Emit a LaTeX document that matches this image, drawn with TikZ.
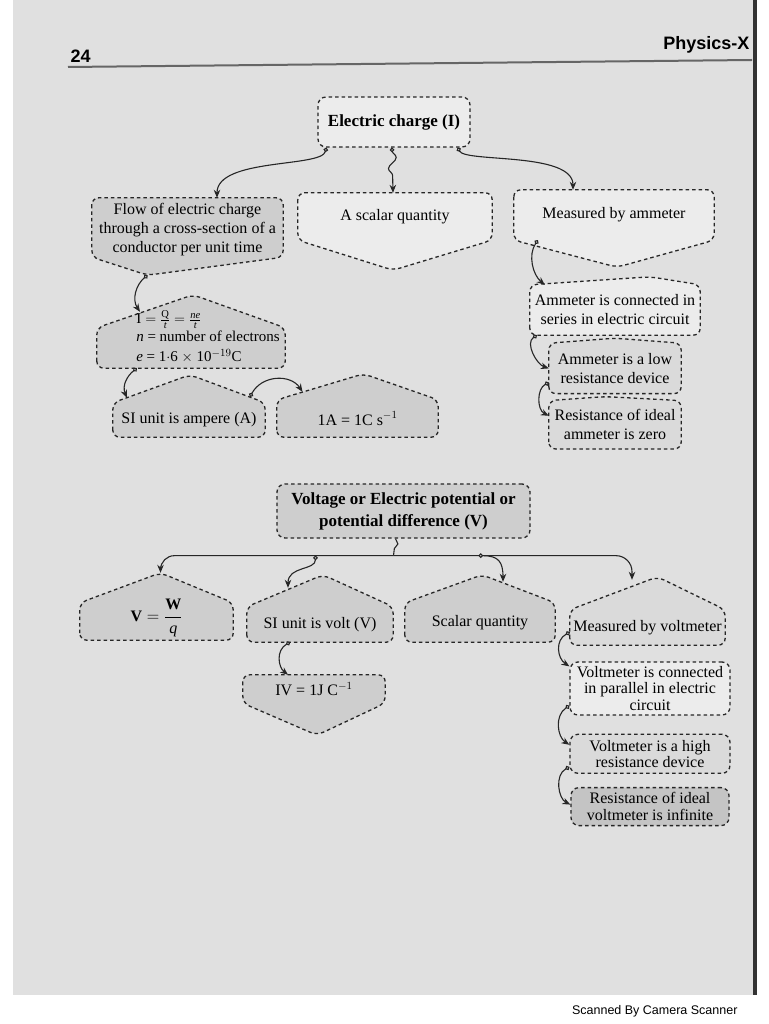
\documentclass[tikz,border=0pt]{standalone}
\usepackage{amsmath}
\usepackage{fontspec}
\setmainfont{Liberation Serif}
\newfontfamily\headfont{Liberation Sans}
\usetikzlibrary{positioning,arrows.meta,decorations.pathmorphing}

\definecolor{pagegray}{RGB}{224,224,224}
\definecolor{boxlight}{RGB}{236,236,236}
\definecolor{boxmid}{RGB}{218,218,218}
\definecolor{boxgray}{RGB}{206,206,206}
\definecolor{boxdark}{RGB}{196,196,196}

\pgfdeclarelayer{paper}
\pgfdeclarelayer{background}
\pgfsetlayers{paper,background,main}

\newcommand{\txt}{\fontsize{16}{19}\selectfont}
\newcommand{\tighttxt}{\fontsize{16}{16.5}\selectfont}
\newcommand{\headtxt}{\fontsize{17}{22}\selectfont\bfseries}

% outline above a text node: name, fill, rise, sink, apex shift
\newcommand{\housebox}[5]{%
  \begin{pgfonlayer}{background}
  \draw[outl, fill=#2] (#1.south west) -- ([yshift=-#4]#1.north west) -- ([xshift=#5,yshift=#3]#1.north) coordinate (#1-top) -- ([yshift=-#4]#1.north east) -- (#1.south east) -- cycle;
  \end{pgfonlayer}}
\newcommand{\shieldbox}[5]{%
  \begin{pgfonlayer}{background}
  \draw[outl, fill=#2] (#1.north west) -- ([yshift=#4]#1.south west) -- ([xshift=#5,yshift=-#3]#1.south) coordinate (#1-tip) -- ([yshift=#4]#1.south east) -- (#1.north east) -- cycle;
  \end{pgfonlayer}}

\begin{document}
\begin{tikzpicture}[
    x=1pt, y=-1pt,
    box/.style={draw=black!85, line width=1.3pt, dash pattern=on 3.5pt off 3pt, rounded corners=8pt, align=center, font=\txt, inner sep=0pt},
    shp/.style={align=center, font=\txt, inner sep=0pt},
    outl/.style={draw=black!85, line width=1.3pt, dash pattern=on 3.5pt off 3pt, rounded corners=7pt},
    tip/.style={-{Stealth[length=8pt,width=6.5pt]}, line width=1.1pt, black!85},
    arr/.style={tip, {Circle[length=4.5pt,fill=gray!40]}-{Stealth[length=8pt,width=6.5pt]}},
    wavy/.style={decorate, decoration={snake, amplitude=4pt, segment length=22pt, pre length=3pt, post length=14pt}},
    wavyline/.style={line width=1.1pt, black!85, decorate, decoration={snake, amplitude=3pt, segment length=16pt}}
]
\begin{pgfonlayer}{paper}
\fill[white] (0,0) rectangle (768,1024);
\fill[pagegray] (13,0) rectangle (754,995);
\fill[black!80] (753,0) rectangle (757,995);
\end{pgfonlayer}
\useasboundingbox (0,0) rectangle (768,1024);

\node[font=\headfont\bfseries\fontsize{18}{18}\selectfont, anchor=base west] (pnum) at (67,63) {24};
\node[font=\headfont\bfseries\fontsize{18}{18}\selectfont, anchor=base east] (subj) at (753,50) {Physics-X};
\draw[black!60, line width=2pt] (68,67) -- (752,60);
\node[font=\headfont\fontsize{12.5}{12.5}\selectfont, anchor=base east] (scan) at (741,1014) {Scanned By Camera Scanner};

\node[box, fill=boxlight, font=\headtxt, minimum width=152pt, minimum height=50pt] (charge) at (394,122) {Electric charge (I)};

\node[shp, minimum width=191pt, minimum height=64pt] (flow) at (187.5,230) {Flow of electric charge\\through a cross-section of a\\conductor per unit time};
\shieldbox{flow}{boxgray}{13pt}{5pt}{-40pt}
\node[shp, minimum width=194pt, minimum height=47pt] (scalarq) at (395,216.5) {A scalar quantity};
\shieldbox{scalarq}{boxlight}{30pt}{0pt}{-2pt}
\node[shp, minimum width=200pt, minimum height=50pt] (ammeas) at (614,215) {Measured by ammeter};
\shieldbox{ammeas}{boxlight}{27pt}{0pt}{3pt}

\node[shp, font=\fontsize{15}{17}\selectfont, align=left, minimum width=188pt, minimum height=62pt] (ieq) at (191,337) {\hspace*{34pt}$\mathrm{I}=\frac{\text{Q}}{\textit{t}}=\frac{\textit{ne}}{\textit{t}}$\\[1pt]\hspace*{34pt}\textit{n} = number of electrons\\[3pt]\hspace*{34pt}\textit{e} = 1$\cdot$6 $\times$ 10$^{-19}$C};
\housebox{ieq}{boxgray}{11pt}{22pt}{2pt}
\node[shp, minimum width=152pt, minimum height=34pt] (siamp) at (189,420) {SI unit is ampere (A)};
\housebox{siamp}{boxgray}{28pt}{0pt}{1pt}
\node[shp, minimum width=161pt, minimum height=37pt] (oneamp) at (357.5,418.5) {1A = 1C~s$^{-1}$};
\housebox{oneamp}{boxgray}{26pt}{0pt}{6pt}

\node[shp, minimum width=170pt, minimum height=50pt] (amser) at (615,310) {Ammeter is connected in\\series in electric circuit};
\housebox{amser}{boxlight}{8pt}{0pt}{35pt}
\node[shp, minimum width=132pt, minimum height=50pt, below=8pt of amser] (amlow) {Ammeter is a low\\resistance device};
\housebox{amlow}{boxmid}{5pt}{0pt}{0pt}
\node[shp, minimum width=132pt, minimum height=48pt, below=7pt of amlow] (amzero) {Resistance of ideal\\ammeter is zero};
\housebox{amzero}{boxmid}{4pt}{0pt}{-10pt}

\draw[arr] ([xshift=9pt]charge.south west) .. controls +(-5,20) and +(0,-40) .. ([xshift=29.5pt]flow.north);
\draw[arr, wavy] ([xshift=-2pt]charge.south) -- ([xshift=-2pt]scalarq.north);
\draw[arr] ([xshift=-13pt]charge.south east) .. controls +(8,15) and +(0,-38) .. ([xshift=-41pt]ammeas.north);
\draw[arr] (flow-tip) .. controls +(-12,10) and +(-8,-12) .. ([xshift=-51pt,yshift=-6pt]ieq.north);
\draw[arr] ([xshift=40pt]ieq.south west) .. controls +(-10,8) and +(-5,-12) .. ([xshift=-62pt,yshift=5pt]siamp.north);
\draw[arr] ([xshift=61pt,yshift=6pt]siamp.north) .. controls +(12,-22) and +(-12,-18) .. ([xshift=-55pt,yshift=8pt]oneamp.north);
\draw[arr] ([xshift=24pt]ammeas.south west) .. controls +(-10,15) and +(-12,-10) .. ([xshift=15pt]amser.north west);
\draw[arr] ([xshift=7pt]amser.south west) .. controls +(-12,8) and +(-12,-4) .. (amlow.west);
\draw[arr] ([yshift=11pt]amlow.south west) .. controls +(-12,6) and +(-12,-6) .. ([yshift=9pt]amzero.west);

\node[box, fill=boxgray, font=\headtxt, minimum width=253pt, minimum height=54pt] (volt) at (403.5,511) {Voltage or Electric potential or\\potential difference (V)};
\coordinate (vbus) at ([xshift=-10pt,yshift=-17pt]volt.south);

\node[shp, minimum width=153pt, minimum height=44pt] (vwq) at (156.5,618) {$\textbf{V}=\dfrac{\textbf{W}}{\textit{q}}$};
\housebox{vwq}{boxgray}{23pt}{7pt}{4pt}
\node[shp, minimum width=146pt, minimum height=35pt] (svolt) at (320,624.5) {SI unit is volt (V)};
\housebox{svolt}{boxgray}{32pt}{0pt}{3pt}
\node[shp, minimum width=142pt, minimum height=28pt] (onevolt) at (314,689) {IV = 1J C$^{-1}$};
\shieldbox{onevolt}{boxgray}{32pt}{0pt}{3pt}
\node[shp, minimum width=150pt, minimum height=39pt] (scalar2) at (480,622.5) {Scalar quantity};
\housebox{scalar2}{boxgray}{28pt}{0pt}{2pt}
\node[shp, minimum width=155pt, minimum height=35pt] (vmeas) at (647.5,627.5) {Measured by voltmeter};
\housebox{vmeas}{boxmid}{33pt}{0pt}{10pt}

\node[box, fill=boxlight, font=\tighttxt, minimum width=160pt, minimum height=53pt] (vpar) at (650,688.5) {Voltmeter is connected\\in parallel in electric\\circuit};
\node[box, fill=boxmid, font=\tighttxt, minimum width=160pt, minimum height=39pt, below=18pt of vpar] (vhigh) {Voltmeter is a high\\resistance device};
\node[box, fill=boxdark, font=\tighttxt, minimum width=158pt, minimum height=38pt, below=13pt of vhigh] (vinf) {Resistance of ideal\\voltmeter is infinite};

\draw[wavyline] ([xshift=-8pt]volt.south) -- (vbus);
\draw[tip, rounded corners=14pt] (vbus) -| (vwq-top);
\draw[tip, rounded corners=16pt] (vbus) -| ([xshift=-25.5pt,yshift=-3pt]vmeas-top);
\draw[arr] ([xshift=-78pt]vbus) .. controls +(0,15) and +(0,-22) .. ([xshift=-35pt,yshift=-13pt]svolt-top);
\draw[arr] ([xshift=85pt]vbus) .. controls +(20,0) and +(0,-20) .. ([xshift=21pt,yshift=-7pt]scalar2-top);
\draw[arr] ([xshift=-30pt]svolt.south) .. controls +(-14,8) and +(-10,-8) .. ([xshift=-26pt]onevolt.north);
\draw[arr] ([yshift=13pt]vmeas.south west) .. controls +(-15,8) and +(-12,-8) .. ([yshift=-5pt]vpar.north west);
\draw[arr] ([yshift=10pt]vpar.south west) .. controls +(-15,10) and +(-12,-8) .. ([yshift=9pt]vhigh.west);
\draw[arr] ([yshift=7pt]vhigh.south west) .. controls +(-15,8) and +(-12,-6) .. ([yshift=2pt]vinf.west);
\end{tikzpicture}
\end{document}
